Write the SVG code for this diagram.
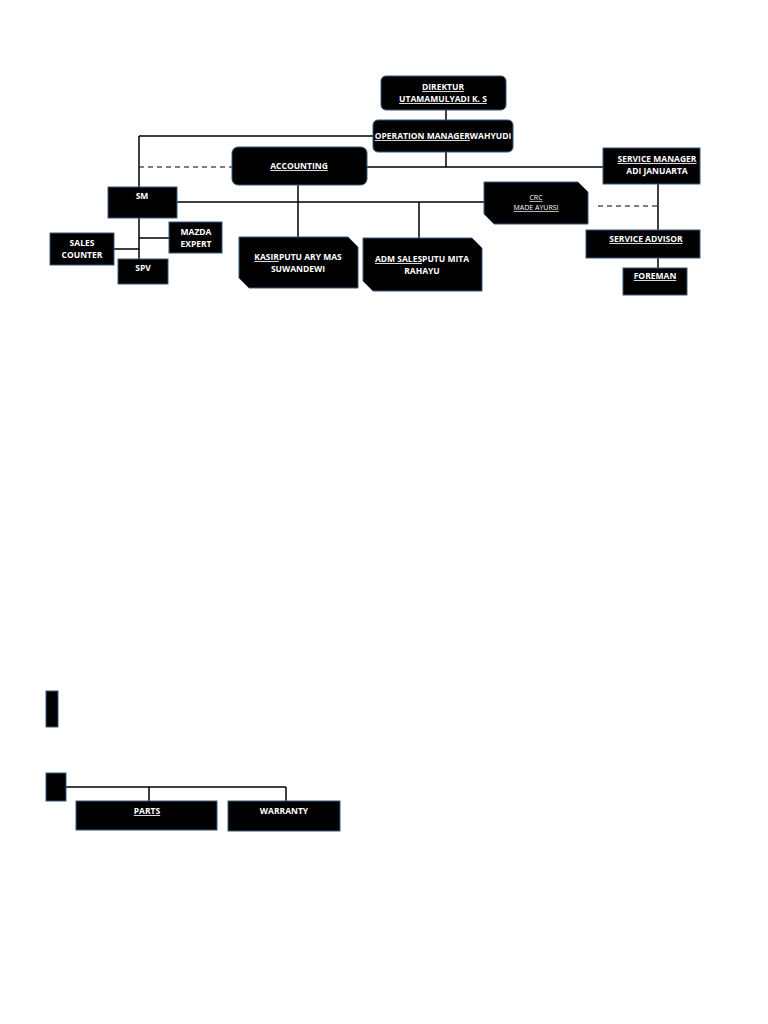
<svg xmlns="http://www.w3.org/2000/svg" width="768" height="1024" viewBox="0 0 768 1024">
<style>
.n{fill:#000;stroke:#3a5a7a;stroke-width:1}
.t{fill:#fff;font-family:"Open Sans","DejaVu Sans",sans-serif;font-size:8.5px;font-weight:bold;text-anchor:middle}
.u{text-decoration:underline}
.c{stroke:#000;stroke-width:1.5;fill:none}
.d{stroke:#000;stroke-width:1.2;fill:none;stroke-dasharray:5,4}
</style>
<rect width="768" height="1024" fill="#fff"/>
<g id="connectors">
<path class="c" d="M446 110V120M446 152V167M139 136H374M139 136V187M367 167H603M177 202H484M298 185V237M419 202V238M139 218V259M139 238H169M114 249H139M658 184V230M658 258V268M66 787H286M149 787V801M286 787V801"/>
<path class="d" d="M139 167H232M598 206H658"/>
</g>
<g id="direktur"><rect class="n" x="381" y="76" width="125" height="34" rx="5"/><text class="t u" x="443" y="90">DIREKTUR</text><text class="t u" x="443" y="102">UTAMAMULYADI K. S</text></g>
<g id="om"><rect class="n" x="373" y="120" width="140" height="32" rx="5"/><text class="t" x="443" y="139"><tspan class="u">OPERATION MANAGER</tspan>WAHYUDI</text></g>
<g id="accounting"><rect class="n" x="232" y="147" width="135" height="38" rx="6"/><text class="t u" x="299" y="169">ACCOUNTING</text></g>
<g id="servicemanager"><rect class="n" x="603" y="148" width="97" height="36"/><text class="t u" x="657" y="162">SERVICE MANAGER</text><text class="t" x="657" y="174">ADI JANUARTA</text></g>
<g id="sm"><rect class="n" x="108" y="187" width="69" height="31"/><text class="t" x="142" y="199">SM</text></g>
<g id="crc"><path class="n" d="M484 182H578L588 192V224H494L484 214Z"/><text class="t u" x="536" y="200" style="font-size:7px;font-weight:normal">CRC</text><text class="t u" x="536" y="210" style="font-size:7px;font-weight:normal">MADE AYURSI</text></g>
<g id="mazda"><rect class="n" x="169" y="222" width="53" height="31"/><text class="t" x="196" y="235">MAZDA</text><text class="t" x="196" y="247">EXPERT</text></g>
<g id="salescounter"><rect class="n" x="50" y="233" width="64" height="32"/><text class="t" x="82" y="246">SALES</text><text class="t" x="82" y="258">COUNTER</text></g>
<g id="spv"><rect class="n" x="118" y="259" width="50" height="25"/><text class="t" x="143" y="271">SPV</text></g>
<g id="kasir"><path class="n" d="M239 237H348L358 247V288H249L239 278Z"/><text class="t" x="298" y="260"><tspan class="u">KASIR</tspan>PUTU ARY MAS</text><text class="t" x="298" y="272">SUWANDEWI</text></g>
<g id="admsales"><path class="n" d="M363 238H472L482 248V291H373L363 281Z"/><text class="t" x="422" y="262"><tspan class="u">ADM SALES</tspan>PUTU MITA</text><text class="t" x="422" y="274">RAHAYU</text></g>
<g id="serviceadvisor"><rect class="n" x="586" y="230" width="114" height="28"/><text class="t u" x="646" y="242">SERVICE ADVISOR</text></g>
<g id="foreman"><rect class="n" x="623" y="268" width="64" height="27"/><text class="t u" x="655" y="279">FOREMAN</text></g>
<g id="box1"><rect class="n" x="46" y="691" width="12" height="36"/></g>
<g id="box2"><rect class="n" x="46" y="773" width="20" height="28"/></g>
<g id="parts"><rect class="n" x="76" y="801" width="141" height="29"/><text class="t u" x="147" y="814">PARTS</text></g>
<g id="warranty"><rect class="n" x="228" y="801" width="112" height="30"/><text class="t" x="284" y="814">WARRANTY</text></g>
</svg>
